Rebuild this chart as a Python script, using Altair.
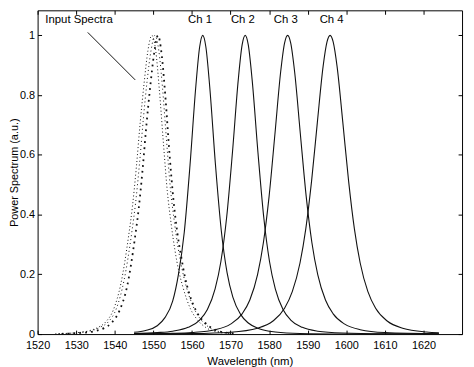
import altair as alt
import pandas as pd

# ---- channel (solid) curves ----
ch1_x = [1545, 1548, 1551, 1553, 1555, 1556.5, 1558, 1559.5, 1561, 1562, 1562.8, 1563.6, 1564.6,
         1566.1, 1567.6, 1569.1, 1570.6, 1572.6, 1574.6, 1577.6, 1581.6, 1588, 1600, 1624]
ch1_y = [0.006, 0.012, 0.028, 0.055, 0.11, 0.2, 0.34, 0.566, 0.829, 0.962, 1.0, 0.962, 0.829,
         0.566, 0.347, 0.206, 0.124, 0.066, 0.037, 0.017, 0.007, 0.002, 0.0005, 0.0]

ch2_x = [1545, 1551, 1555, 1559, 1562, 1564, 1566, 1567.5, 1569, 1570.5, 1572, 1573, 1573.8,
         1574.6, 1575.6, 1577.1, 1578.6, 1580.1, 1581.6, 1583.6, 1585.6, 1588.6, 1592.6, 1599,
         1610, 1624]
ch2_y = [0.002, 0.005, 0.0097, 0.0225, 0.047, 0.082, 0.151, 0.243, 0.392, 0.609, 0.851, 0.968, 1.0,
         0.968, 0.851, 0.609, 0.392, 0.243, 0.151, 0.082, 0.047, 0.0225, 0.0097, 0.0034,
         0.0008, 0.0002]

ch3_x = [1545, 1555, 1560, 1566, 1570, 1573, 1575, 1577, 1578.5, 1580, 1581.5, 1583, 1584,
         1584.8, 1585.6, 1586.6, 1588.1, 1589.6, 1591.1, 1592.6, 1594.6, 1596.6, 1599.6, 1603.6,
         1610, 1624]
ch3_y = [0.0009, 0.0027, 0.0054, 0.0148, 0.0333, 0.0675, 0.114, 0.199, 0.305, 0.462, 0.669, 0.879,
         0.974, 1.0, 0.974, 0.879, 0.669, 0.462, 0.305, 0.199, 0.114, 0.0675, 0.0333, 0.0148,
         0.0051, 0.001]

ch4_x = [1545, 1560, 1570, 1577, 1581, 1584, 1586, 1588, 1589.5, 1591, 1592.5, 1594, 1595,
         1595.8, 1596.6, 1597.6, 1599.1, 1600.6, 1602.1, 1603.6, 1605.6, 1607.6, 1610.6, 1614.6,
         1620.8, 1624]
ch4_y = [0.0005, 0.0019, 0.0064, 0.0198, 0.0438, 0.0864, 0.142, 0.238, 0.352, 0.512, 0.709, 0.897,
         0.978, 1.0, 0.978, 0.897, 0.709, 0.512, 0.352, 0.238, 0.142, 0.0864, 0.0438, 0.0198,
         0.0072, 0.0046]

# ---- input spectra (dotted) ----
inA_x = [1524.6, 1529.6, 1533.6, 1535.6, 1537.6, 1539.6, 1541.6, 1543.6, 1544.6, 1545.6, 1546.6,
         1547.6, 1548.6, 1549.6, 1550.6, 1551.6, 1552.6, 1553.6, 1554.6, 1555.6, 1556.6, 1557.6,
         1559.6, 1561.6, 1563.6, 1565.6, 1569.6]
inA_y = [0.001, 0.004, 0.012, 0.022, 0.04, 0.08, 0.17, 0.33, 0.43, 0.56, 0.71, 0.84, 0.95, 1.0,
         0.95, 0.81, 0.64, 0.48, 0.37, 0.28, 0.21, 0.16, 0.085, 0.045, 0.022, 0.01, 0.002]

inB_x = [1525.4, 1530.4, 1534.4, 1536.4, 1538.4, 1540.4, 1542.4, 1544.4, 1545.4, 1546.4, 1547.4,
         1548.4, 1549.4, 1550.4, 1551.4, 1552.4, 1553.4, 1554.4, 1555.4, 1556.4, 1557.4, 1558.4,
         1560.4, 1562.4, 1564.4, 1566.4, 1570.4]
inB_y = [0.001, 0.005, 0.013, 0.024, 0.042, 0.085, 0.18, 0.34, 0.44, 0.57, 0.72, 0.85, 0.95, 1.0,
         0.95, 0.82, 0.65, 0.49, 0.38, 0.29, 0.22, 0.165, 0.09, 0.047, 0.023, 0.011, 0.002]

inC_x = [1526.2, 1531.2, 1535.2, 1537.2, 1539.2, 1541.2, 1543.2, 1545.2, 1546.2, 1547.2, 1548.2,
         1549.2, 1550.2, 1551.2, 1552.2, 1553.2, 1554.2, 1555.2, 1556.2, 1557.2, 1558.2, 1559.2,
         1561.2, 1563.2, 1565.2, 1567.2, 1571.2]
inC_y = [0.001, 0.004, 0.011, 0.02, 0.038, 0.078, 0.16, 0.32, 0.42, 0.55, 0.7, 0.83, 0.94, 1.0,
         0.93, 0.78, 0.6, 0.45, 0.34, 0.26, 0.19, 0.14, 0.075, 0.04, 0.02, 0.009, 0.002]

# ---- annotations ----
ann_x = [1533.0]
ann_y = [1.01]
ann_x2 = [1545.3]
ann_y2 = [0.851]
label_text = ["Input Spectra"]
label_x = [1522.0]
label_y = [1.05]
ch_text = ["Ch 1", "Ch 2", "Ch 3", "Ch 4"]
ch_x = [1562.1, 1573.2, 1584.3, 1596.2]
ch_y = [1.05, 1.05, 1.05, 1.05]

x_ticks = [1520, 1530, 1540, 1550, 1560, 1570, 1580, 1590, 1600, 1610, 1620]
y_ticks = [0, 0.2, 0.4, 0.6, 0.8, 1.0]

FONT = "Liberation Sans"
XDOM = [1520, 1630]
YDOM = [0, 1.084]


def frame(xs, ys, name):
    return pd.DataFrame({"x": xs, "y": ys, "series": name})


solid = pd.concat([frame(ch1_x, ch1_y, "Ch 1"), frame(ch2_x, ch2_y, "Ch 2"),
                   frame(ch3_x, ch3_y, "Ch 3"), frame(ch4_x, ch4_y, "Ch 4")])

xs = alt.Scale(domain=XDOM, nice=False, zero=False)
ys = alt.Scale(domain=YDOM, nice=False)

common_axis = dict(tickSize=4, tickColor="black", tickWidth=1, domain=False, grid=False,
                   labelFont=FONT, labelFontSize=11, labelColor="black",
                   titleFont=FONT, titleFontWeight="normal", titleColor="black")

x_bottom = alt.Axis(orient="bottom", values=x_ticks, format="d", offset=-4, labelPadding=6,
                    labelFlush=False, title="Wavelength (nm)", titlePadding=5, titleFontSize=11.5,
                    **common_axis)
y_left = alt.Axis(orient="left", values=y_ticks, format="~g", offset=-4, labelPadding=3,
                  title="Power Spectrum (a.u.)", titlePadding=0, titleFontSize=11, **common_axis)
x_top = alt.Axis(orient="top", values=x_ticks, labels=False, offset=-4, title=None, **common_axis)
y_right = alt.Axis(orient="right", values=y_ticks, labels=False, offset=-4, title=None, **common_axis)

solid_layer = alt.Chart(solid).mark_line(color="#111111", strokeWidth=1.1,
                                           interpolate="monotone").encode(
    x=alt.X("x:Q", scale=xs, axis=x_bottom),
    y=alt.Y("y:Q", scale=ys, axis=y_left),
    detail="series:N",
)


def dotted(xv, yv, name, dash, width, axes=False):
    return alt.Chart(frame(xv, yv, name)).mark_line(
        color="#111111", strokeWidth=width, strokeDash=dash, interpolate="monotone"
    ).encode(
        x=alt.X("x:Q", scale=xs, axis=x_top if axes else None),
        y=alt.Y("y:Q", scale=ys, axis=y_right if axes else None),
    )


dA = dotted(inA_x, inA_y, "A", [1, 2.5], 1.0, axes=True)
dB = dotted(inB_x, inB_y, "B", [1, 3], 1.0)
dC = dotted(inC_x, inC_y, "C", [1.8, 4.2], 1.8)

ann = alt.Chart(pd.DataFrame({"x": ann_x, "y": ann_y, "x2": ann_x2, "y2": ann_y2})).mark_rule(
    color="#111111", strokeWidth=1).encode(
    x=alt.X("x:Q", scale=xs, axis=None), y=alt.Y("y:Q", scale=ys, axis=None), x2="x2:Q", y2="y2:Q")

lab = alt.Chart(pd.DataFrame({"x": label_x, "y": label_y, "t": label_text})).mark_text(
    align="left", baseline="middle", font=FONT, fontSize=11.5, color="black").encode(
    x=alt.X("x:Q", scale=xs, axis=None), y=alt.Y("y:Q", scale=ys, axis=None), text="t:N")

chl = alt.Chart(pd.DataFrame({"x": ch_x, "y": ch_y, "t": ch_text})).mark_text(
    align="center", baseline="middle", font=FONT, fontSize=11.5, color="black").encode(
    x=alt.X("x:Q", scale=xs, axis=None), y=alt.Y("y:Q", scale=ys, axis=None), text="t:N")

chart = alt.layer(solid_layer, dA, dB, dC, ann, lab, chl).resolve_axis(
    x="independent", y="independent"
).properties(
    width=430, height=328,
    autosize=alt.AutoSizeParams(type="none"),
    padding={"left": 30, "top": 0, "right": 4, "bottom": 31},
    background="white",
).configure_view(stroke="black", strokeWidth=1)

chart.save("out.html", embed_options={"renderer": "svg", "actions": False})
